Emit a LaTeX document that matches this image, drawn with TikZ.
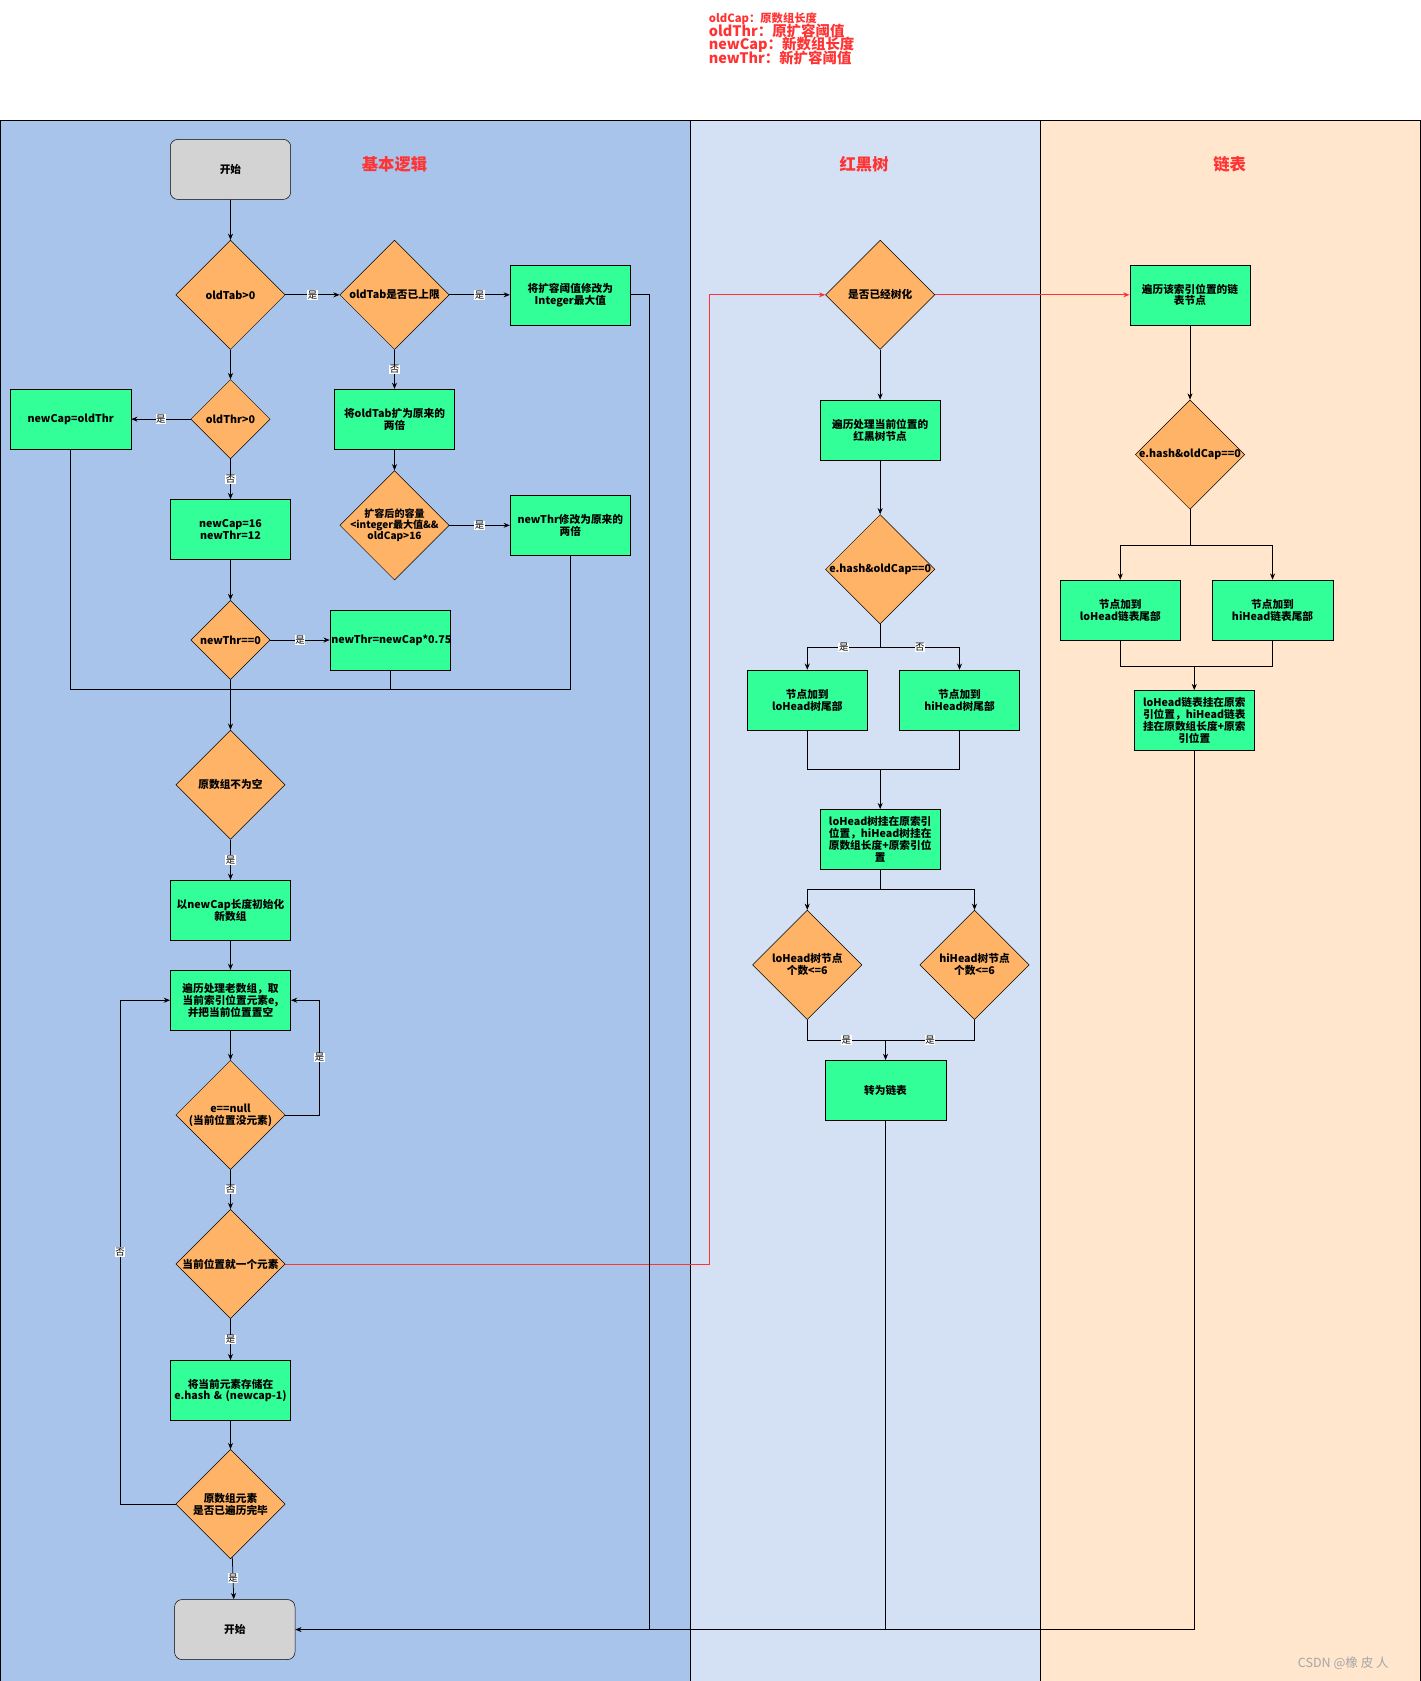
\documentclass[tikz,border=0pt]{standalone}
\usepackage{fontspec}
\setmainfont{Noto Sans CJK SC}
\usetikzlibrary{shapes.geometric,arrows.meta}
\definecolor{laneA}{HTML}{A9C4EB}
\definecolor{laneB}{HTML}{D4E1F5}
\definecolor{laneC}{HTML}{FFE6CC}
\definecolor{grn}{HTML}{33FF99}
\definecolor{org}{HTML}{FFB366}
\definecolor{gry}{HTML}{D3D3D3}
\definecolor{redt}{HTML}{FF3333}
\begin{document}
\begin{tikzpicture}[x=0.03cm,y=-0.03cm,
  txt/.style={font=\fontsize{8.5}{9.5}\selectfont\bfseries},
  box/.style={draw, fill=grn, minimum width=3.36cm, minimum height=1.68cm, inner sep=1pt, align=center, text width=3.3cm, txt},
  term/.style={box, fill=gry, rounded corners=6pt},
  dia/.style={draw, fill=org, diamond, minimum width=3.06cm, minimum height=3.06cm, inner sep=0pt},
  sdia/.style={dia, minimum width=2.22cm, minimum height=2.22cm},
  dl/.style={align=center, txt},
  lab/.style={fill=white, inner sep=0.5pt, font=\fontsize{7.5}{8}\selectfont},
  ttl/.style={text=redt, font=\fontsize{13}{14}\selectfont\bfseries},
  arr/.style={-{Stealth[length=5pt,width=4pt]}, line width=0.6pt},
  ln/.style={line width=0.6pt}]
\useasboundingbox (0,0) rectangle (1325,1568);
\fill[white] (0,0) rectangle (1325,1568);
% lanes
\draw[fill=laneA] (0,112) rectangle (644,1568);
\draw[fill=laneB] (644,112) rectangle (970,1568);
\draw[fill=laneC] (970,112) rectangle (1325,1568);
% legend
\node (lg) [anchor=north west, text=redt, align=left, inner sep=0pt] at (661,12)
 {{\fontsize{9}{12}\selectfont\bfseries oldCap：原数组长度}\\[-1pt]
  {\fontsize{11.5}{14}\selectfont\bfseries oldThr：原扩容阈值}\\[-2pt]
  {\fontsize{11.5}{14}\selectfont\bfseries newCap：新数组长度}\\[-2pt]
  {\fontsize{11.5}{14}\selectfont\bfseries newThr：新扩容阈值}};
\node (t1) [ttl] at (368,153) {基本逻辑};
\node (t2) [ttl] at (806,153) {红黑树};
\node (t3) [ttl] at (1147,153) {链表};
% basic logic
\node (st) [term] at (215,158) {开始};
\node (d1) [dia, label={[dl]center:oldTab>0}] at (215,275) {};
\node (d2) [dia, label={[dl]center:oldTab是否已上限}] at (368,275) {};
\node (b1) [box] at (532,275) {将扩容阈值修改为\\Integer最大值};
\node (d3) [sdia, label={[dl]center:oldThr>0}] at (215,391) {};
\node (b2) [box] at (66,391) {newCap=oldThr};
\node (b3) [box] at (368,391) {将oldTab扩为原来的\\两倍};
\node (d4) [dia, label={[dl, font=\fontsize{8}{9}\selectfont\bfseries]center:扩容后的容量\\<integer最大值\&\&\\oldCap>16}] at (368,490) {};
\node (b4) [box] at (532,490) {newThr修改为原来的\\两倍};
\node (b5) [box] at (215,494) {newCap=16\\newThr=12};
\node (d5) [sdia, label={[dl]center:newThr==0}] at (215,597) {};
\node (b6) [box] at (364,597) {newThr=newCap*0.75};
\node (d6) [dia, label={[dl]center:原数组不为空}] at (215,732) {};
\node (b7) [box] at (215,849) {以newCap长度初始化\\新数组};
\node (b8) [box] at (215,933) {遍历处理老数组，取\\当前索引位置元素e,\\并把当前位置置空};
\node (d7) [dia, label={[dl]center:e==null\\(当前位置没元素)}] at (215,1040) {};
\node (d8) [dia, label={[dl]center:当前位置就一个元素}] at (215,1179) {};
\node (b9) [box] at (215,1297) {将当前元素存储在\\e.hash \& (newcap-1)};
\node (d9) [dia, label={[dl]center:原数组元素\\是否已遍历完毕}] at (215,1403) {};
\node (en) [term] at (219,1520) {开始};
\coordinate (j1) at (215,643);
\draw[arr] (st) -- (d1);
\draw[arr] (d1) -- node[lab]{是} (d2);
\draw[arr] (d2) -- node[lab]{是} (b1);
\draw[arr] (d2) -- node[lab]{否} (b3);
\draw[arr] (d1) -- (d3);
\draw[arr] (d3) -- node[lab]{是} (b2);
\draw[arr] (d3) -- node[lab]{否} (b5);
\draw[arr] (b3) -- (d4);
\draw[arr] (d4) -- node[lab]{是} (b4);
\draw[arr] (b5) -- (d5);
\draw[arr] (d5) -- node[lab]{是} (b6);
\draw[arr] (d5) -- (d6);
\draw[ln] (b2.south) |- (j1) -| (b4.south);
\draw[ln] (b6.south) -- (b6.south |- j1);
\draw[arr] (d6) -- node[lab]{是} (b7);
\draw[arr] (b7) -- (b8);
\draw[arr] (b8) -- (d7);
\draw[arr] (d7.east) -- (298,1040) -- node[lab]{是} (298,933) -- (b8.east);
\draw[arr] (d7) -- node[lab]{否} (d8);
\draw[arr] (d8) -- node[lab]{是} (b9);
\draw[arr] (b9) -- (d9);
\draw[arr] (d9) -- node[lab]{是} (en);
\draw[arr] (d9.west) -- (112,1403) -- node[lab]{否} (112,933) -- (b8.west);
% red-black tree
\node (r1) [dia, label={[dl]center:是否已经树化}] at (821,275) {};
\node (r2) [box] at (821,401) {遍历处理当前位置的\\红黑树节点};
\node (r3) [dia, label={[dl]center:e.hash\&oldCap==0}] at (821,531) {};
\node (r4) [box] at (753,653) {节点加到\\loHead树尾部};
\node (r5) [box] at (895,653) {节点加到\\hiHead树尾部};
\node (r6) [box] at (821,783) {loHead树挂在原索引\\位置，hiHead树挂在\\原数组长度+原索引位\\置};
\node (r7) [dia, label={[dl]center:loHead树节点\\个数<=6}] at (753,900) {};
\node (r8) [dia, label={[dl]center:hiHead树节点\\个数<=6}] at (909,900) {};
\node (r9) [box] at (826,1017) {转为链表};
\draw[arr] (r1) -- (r2);
\draw[arr] (r2) -- (r3);
\draw[ln] (r3.south) -- (821,604);
\draw[arr] (821,604) -- node[lab]{是} (753,604) -- (r4);
\draw[arr] (821,604) -- node[lab]{否} (895,604) -- (r5);
\draw[ln] (r4.south) |- (821,718) -| (r5.south);
\draw[arr] (821,718) -- (r6);
\draw[ln] (r6.south) -- (821,830);
\draw[arr] (821,830) -| (r7.north);
\draw[arr] (821,830) -| (r8.north);
\draw[ln] (r7.south) |- node[lab, pos=0.75]{是} (826,970);
\draw[ln] (r8.south) |- node[lab, pos=0.75]{是} (826,970);
\draw[arr] (826,970) -- (r9);
% linked list
\node (l1) [box] at (1110,275) {遍历该索引位置的链\\表节点};
\node (l2) [dia, label={[dl]center:e.hash\&oldCap==0}] at (1110,424) {};
\node (l3) [box] at (1045,569) {节点加到\\loHead链表尾部};
\node (l4) [box] at (1187,569) {节点加到\\hiHead链表尾部};
\node (l5) [box] at (1114,672) {loHead链表挂在原索\\引位置，hiHead链表\\挂在原数组长度+原索\\引位置};
\draw[arr] (l1) -- (l2);
\draw[ln] (l2.south) -- (1110,509);
\draw[arr] (1110,509) -| (l3.north);
\draw[arr] (1110,509) -| (l4.north);
\draw[ln] (l3.south) |- (1114,622) -| (l4.south);
\draw[arr] (1114,622) -- (l5);
% cross connections
\draw[arr, redt] (d8.east) -- (662,1179) |- (r1.west);
\draw[arr, redt] (r1.east) -- (l1.west);
\draw[ln] (b1.east) -- (606,275) -- (606,1520);
\draw[ln] (r9.south) -- (826,1520);
\draw[arr] (l5.south) |- (en.east);
\node (wm) [text=gray!70, font=\fontsize{10}{12}\selectfont] at (1253,1551) {CSDN @橡 皮 人};
\end{tikzpicture}
\end{document}
